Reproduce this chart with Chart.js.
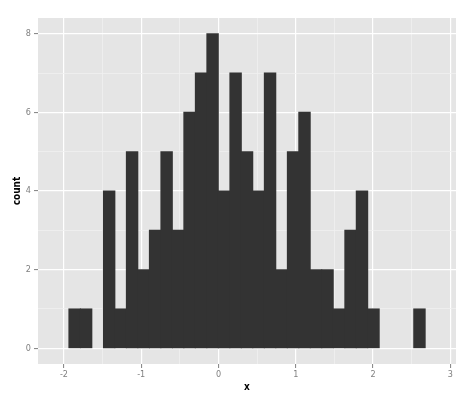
<!DOCTYPE html>
<html>
<head>
<meta charset="utf-8">
<script src="https://cdn.jsdelivr.net/npm/chart.js@4.4.1/dist/chart.umd.min.js"></script>
<style>
  html, body { margin: 0; padding: 0; background: #ffffff; }
  #wrap { width: 474px; height: 405px; }
</style>
</head>
<body>
<div id="wrap"><canvas id="c" width="474" height="405"></canvas></div>
<script>
// Histogram bin centres (x) and counts
const binCenters = [-1.862, -1.713, -1.564, -1.415, -1.266, -1.118, -0.969, -0.820, -0.671, -0.522,
                    -0.374, -0.225, -0.076, 0.073, 0.222, 0.370, 0.519, 0.668, 0.817, 0.966,
                    1.114, 1.263, 1.412, 1.561, 1.710, 1.858, 2.007, 2.156, 2.305, 2.454, 2.602];
const counts = [1, 1, 0, 4, 1, 5, 2, 3, 5, 3,
                6, 7, 8, 4, 7, 5, 4, 7, 2, 5,
                6, 2, 2, 1, 3, 4, 1, 0, 0, 0, 1];
const xMajorTicks = [-2, -1, 0, 1, 2, 3];
const xMinorTicks = [-1.5, -0.5, 0.5, 1.5, 2.5];
const yMajorTicks = [0, 2, 4, 6, 8];
const yMinorTicks = [1, 3, 5, 7];
const xTitle = 'x';
const yTitle = 'count';

const FONT = "'Liberation Sans Narrow', 'DejaVu Sans Condensed', 'Arial Narrow', sans-serif";

const panelBg = {
  id: 'panelBg',
  beforeDraw(chart) {
    const {ctx, chartArea: a} = chart;
    ctx.save();
    ctx.fillStyle = '#E5E5E5';
    ctx.fillRect(a.left, a.top, a.right - a.left, a.bottom - a.top);
    ctx.restore();
  }
};

function isMajor(v, majors) { return majors.some(m => Math.abs(m - v) < 1e-9); }
function tickVal(ctx) { return ctx && ctx.tick ? ctx.tick.value : NaN; }

function gridOpts(majors) {
  return {
    offset: false,
    color: ctx => isMajor(tickVal(ctx), majors) ? '#FFFFFF' : '#F0F0F0',
    lineWidth: ctx => isMajor(tickVal(ctx), majors) ? 1.2 : 0.8,
    tickColor: ctx => isMajor(tickVal(ctx), majors) ? '#7F7F7F' : 'rgba(0,0,0,0)',
    tickWidth: 1,
    tickLength: 4,
    drawTicks: true
  };
}

new Chart(document.getElementById('c'), {
  type: 'bar',
  data: {
    datasets: [{
      data: binCenters.map((x, i) => ({x: x, y: counts[i]})),
      backgroundColor: ctx => (ctx.raw && ctx.raw.y > 0) ? '#333333' : 'rgba(0,0,0,0)',
      borderWidth: 0,
      inflateAmount: 0.5,
      barPercentage: 1.0,
      categoryPercentage: 1.0
    }]
  },
  options: {
    responsive: false,
    animation: false,
    devicePixelRatio: 1,
    layout: { padding: { top: 18, right: 18, left: 0, bottom: 0 } },
    plugins: { legend: { display: false }, tooltip: { enabled: false } },
    scales: {
      x: {
        type: 'linear',
        min: -2.336,
        max: 3.075,
        offset: false,
        afterBuildTicks(scale) {
          scale.ticks = xMajorTicks.concat(xMinorTicks).sort((a, b) => a - b).map(v => ({value: v}));
        },
        afterFit(scale) { scale.height = 41; },
        border: { display: false },
        grid: gridOpts(xMajorTicks),
        ticks: {
          autoSkip: false,
          maxRotation: 0,
          padding: 1,
          color: '#7F7F7F',
          font: { family: FONT, size: 9 },
          callback: v => isMajor(v, xMajorTicks) ? String(v) : ''
        },
        title: {
          display: true,
          text: xTitle,
          color: '#000000',
          font: { family: FONT, size: 10, weight: 'bold' },
          padding: { top: 0, bottom: 12 }
        }
      },
      y: {
        type: 'linear',
        min: -0.4,
        max: 8.4,
        afterBuildTicks(scale) {
          scale.ticks = yMajorTicks.concat(yMinorTicks).sort((a, b) => a - b).map(v => ({value: v}));
        },
        afterFit(scale) { scale.width = 38; },
        border: { display: false },
        grid: gridOpts(yMajorTicks),
        ticks: {
          autoSkip: false,
          padding: 3,
          color: '#7F7F7F',
          font: { family: FONT, size: 9 },
          callback: v => isMajor(v, yMajorTicks) ? String(v) : ''
        },
        title: {
          display: true,
          text: yTitle,
          color: '#000000',
          font: { family: FONT, size: 10, weight: 'bold' },
          padding: { top: 11.3, bottom: 0 }
        }
      }
    }
  },
  plugins: [panelBg]
});
</script>
</body>
</html>
